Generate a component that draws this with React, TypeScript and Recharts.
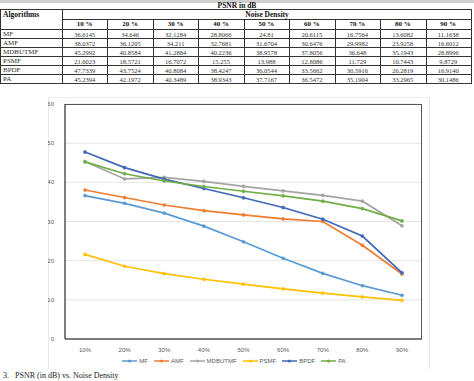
import React from "react";
import {
  LineChart,
  Line,
  XAxis,
  YAxis,
  CartesianGrid,
  Legend,
} from "recharts";

const categories = ["10%", "20%", "30%", "40%", "50%", "60%", "70%", "80%", "90%"];
const tableHeaders = ["10 %", "20 %", "30 %", "40 %", "50 %", "60 %", "70 %", "80 %", "90 %"];
const algorithms = ["MF", "AMF", "MDBUTMF", "PSMF", "BPDF", "PA"];

const MF = ["36.6145", "34.646", "32.1284", "28.8066", "24.81", "20.6115", "16.7564", "13.6082", "11.1638"];
const AMF = ["38.0372", "36.1205", "34.211", "32.7681", "31.6704", "30.6476", "29.9982", "23.9258", "16.6012"];
const MDBUTMF = ["45.2992", "40.8584", "41.2884", "40.2236", "38.9578", "37.8056", "36.648", "35.1943", "28.8996"];
const PSMF = ["21.6023", "18.5721", "16.7072", "15.255", "13.988", "12.8086", "11.729", "10.7443", "9.8729"];
const BPDF = ["47.7339", "43.7524", "40.8084", "38.4247", "36.0544", "33.5662", "30.5916", "26.2819", "16.9140"];
const PA = ["45.2394", "42.1972", "40.3489", "38.9343", "37.7167", "36.5472", "35.1904", "33.2965", "30.1486"];

const seriesValues: Record<string, string[]> = { MF, AMF, MDBUTMF, PSMF, BPDF, PA };
const seriesColors: Record<string, string> = {
  MF: "#5b9bd5",
  AMF: "#ed7d31",
  MDBUTMF: "#a5a5a5",
  PSMF: "#ffc000",
  BPDF: "#4068b8",
  PA: "#70ad47",
};

const yTicks = [0, 10, 20, 30, 40, 50, 60];
const caption = "3.   PSNR (in dB) vs. Noise Density";

const chartData = categories.map((c, i) => {
  const row: Record<string, number | string> = { x: c };
  algorithms.forEach((a) => {
    row[a] = parseFloat(seriesValues[a][i]);
  });
  return row;
});

const serif = "'Liberation Serif', 'DejaVu Serif', serif";
const sans = "'Liberation Sans', Arial, sans-serif";

const colX = [0, 62, ...tableHeaders.map((_, i) => 62 + (i + 1) * 45.44)];
const dataTop = 29;
const rowH = 9;

function Table() {
  const lines: React.ReactNode[] = [];
  const lineColor = "#333";
  lines.push(<div key="h1" style={{ position: "absolute", left: 0, top: 9, width: 472, height: 1, background: lineColor }} />);
  lines.push(<div key="h2" style={{ position: "absolute", left: 62, top: 19, width: 410, height: 1, background: lineColor }} />);
  for (let r = 0; r <= algorithms.length; r++) {
    lines.push(
      <div key={"hr" + r} style={{ position: "absolute", left: 0, top: dataTop + r * rowH, width: 472, height: 1, background: lineColor }} />
    );
  }
  lines.push(<div key="v0" style={{ position: "absolute", left: 62, top: 9, width: 1, height: dataTop + 6 * rowH - 9, background: lineColor }} />);
  lines.push(<div key="vr" style={{ position: "absolute", left: 471, top: 9, width: 1, height: dataTop + 6 * rowH - 9, background: lineColor }} />);
  lines.push(<div key="vl" style={{ position: "absolute", left: 0, top: 9, width: 1, height: dataTop + 6 * rowH - 9, background: lineColor }} />);
  for (let c = 2; c < colX.length - 1; c++) {
    lines.push(
      <div key={"v" + c} style={{ position: "absolute", left: Math.round(colX[c]), top: 19, width: 1, height: dataTop + 6 * rowH - 19, background: lineColor }} />
    );
  }
  const texts: React.ReactNode[] = [];
  texts.push(
    <div key="title" style={{ position: "absolute", left: 0, top: 3, width: 474, height: 6, lineHeight: "6px", textAlign: "center", fontWeight: "bold", fontSize: 7.5 }}>
      PSNR in dB
    </div>
  );
  texts.push(
    <div key="alg" style={{ position: "absolute", left: 3, top: 10, height: 9, lineHeight: "9px", fontWeight: "bold", fontSize: 7.5 }}>
      Algorithms
    </div>
  );
  texts.push(
    <div key="nd" style={{ position: "absolute", left: 62, top: 10, width: 410, height: 9, lineHeight: "9px", textAlign: "center", fontWeight: "bold", fontSize: 7.5 }}>
      Noise Density
    </div>
  );
  tableHeaders.forEach((h, i) => {
    texts.push(
      <div key={"h" + i} style={{ position: "absolute", left: colX[i + 1], top: 20, width: 45.44, height: 9, lineHeight: "9px", textAlign: "center", fontWeight: "bold", fontSize: 7 }}>
        {h}
      </div>
    );
  });
  algorithms.forEach((a, r) => {
    texts.push(
      <div key={"n" + r} style={{ position: "absolute", left: 3, top: dataTop + r * rowH + 1, height: rowH, lineHeight: rowH + "px", fontSize: 7, color: "#333" }}>
        {a}
      </div>
    );
    seriesValues[a].forEach((v, i) => {
      texts.push(
        <div key={"d" + r + "_" + i} style={{ position: "absolute", left: colX[i + 1], top: dataTop + r * rowH + 1, width: 45.44, height: rowH, lineHeight: rowH + "px", textAlign: "center", fontSize: 6.5, color: "#333" }}>
          {v}
        </div>
      );
    });
  });
  return (
    <div style={{ position: "absolute", left: 0, top: 0, width: 474, height: 90, fontFamily: serif, color: "#111" }}>
      <div style={{ position: "absolute", left: 0, top: 0, width: 474, height: 3, background: "#cfcfcf" }} />
      {lines}
      {texts}
    </div>
  );
}

function LegendContent() {
  return (
    <div style={{ display: "flex", justifyContent: "center", alignItems: "center", fontFamily: sans, fontSize: 6, color: "#595959", paddingTop: 5, paddingLeft: 4 }}>
      {algorithms.map((a) => (
        <div key={a} style={{ display: "flex", alignItems: "center", marginRight: 6 }}>
          <svg width={15} height={6} style={{ marginRight: 2 }}>
            <line x1={0} y1={3} x2={15} y2={3} stroke={seriesColors[a]} strokeWidth={1.5} />
            <circle cx={7.5} cy={3} r={1.6} fill={seriesColors[a]} />
          </svg>
          <span>{a}</span>
        </div>
      ))}
    </div>
  );
}

export default function App() {
  return (
    <div style={{ position: "absolute", left: 0, top: 0, width: 474, height: 381, overflow: "hidden", background: "#fff" }}>
      <Table />
      <div style={{ position: "absolute", left: 48, top: 97, width: 382, height: 272, borderLeft: "1px solid #e6e6e6", borderRight: "1px solid #e6e6e6", borderTop: "1px solid #eeeeee", boxSizing: "border-box" }} />
      <div style={{ position: "absolute", left: 48, top: 97 }}>
        <LineChart width={382} height={272} data={chartData} margin={{ top: 7, right: 8, left: 0, bottom: 0 }}>
          <CartesianGrid vertical={false} stroke="#dedede" strokeWidth={0.8} />
          <XAxis
            dataKey="x"
            tickLine={false}
            axisLine={{ stroke: "#555", strokeWidth: 1.5 }}
            tick={{ fontSize: 6, fill: "#595959", fontFamily: sans }}
            height={14}
            tickMargin={3}
            interval={0}
            padding={{ left: 20, right: 20 }}
          />
          <YAxis
            domain={[0, 60]}
            ticks={yTicks}
            tickLine={false}
            axisLine={{ stroke: "#555", strokeWidth: 1.5 }}
            tick={{ fontSize: 6, fill: "#595959", fontFamily: sans }}
            width={17}
            tickMargin={5}
            interval={0}
          />
          <Legend verticalAlign="bottom" height={16} content={<LegendContent />} />
          {algorithms.map((a) => (
            <Line
              key={a}
              type="linear"
              dataKey={a}
              stroke={seriesColors[a]}
              strokeWidth={1.7}
              dot={{ r: 1.6, fill: seriesColors[a], stroke: seriesColors[a], strokeWidth: 0.5 }}
              isAnimationActive={false}
            />
          ))}
        </LineChart>
      </div>
      <div style={{ position: "absolute", left: 65, top: 104, width: 357, height: 235, borderTop: "1.5px solid #555", borderRight: "1.5px solid #555", boxSizing: "border-box", pointerEvents: "none" }} />
      <div style={{ position: "absolute", left: 3, top: 371, fontFamily: serif, fontSize: 8, lineHeight: "9px", color: "#222", whiteSpace: "pre" }}>
        {caption}
      </div>
    </div>
  );
}
